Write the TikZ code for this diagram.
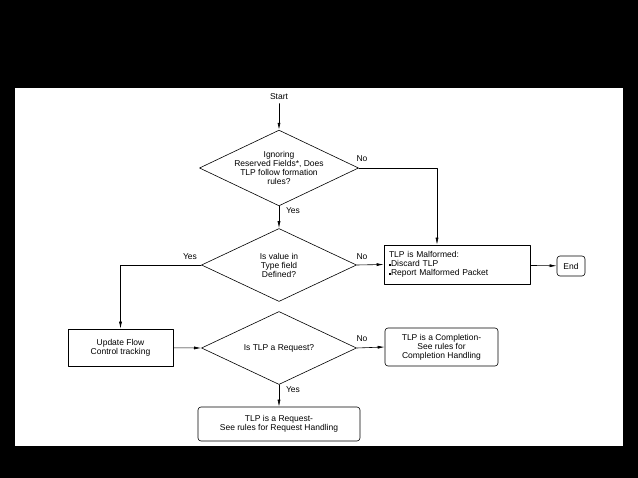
\documentclass[tikz,border=0pt]{standalone}
\usepackage{fontspec}
\setmainfont{Liberation Sans}
\usetikzlibrary{arrows.meta,shapes.geometric}
\newcommand{\sqbul}{\rule[0.25ex]{2pt}{2pt}}
\tikzset{
	dec/.style={draw,diamond,shape aspect=2.1,inner sep=0pt,minimum width=155,minimum height=73,align=center,font=\fontsize{8.5}{9}\selectfont},
	box/.style={draw,align=center,inner sep=2pt,font=\fontsize{8.5}{9}\selectfont},
	rbox/.style={box,rounded corners=3pt},
	lbl/.style={font=\fontsize{8.5}{9}\selectfont}
}
\begin{document}
\begin{tikzpicture}[line cap=round,line join=round,>={Latex[length=7pt,width=3pt]},x=1pt,y=-1pt,line width=0.6pt]
		\fill[black] (0,0) rectangle (638,478);
		\fill[white] (15,88) rectangle (623,446);
		\useasboundingbox (0,0) rectangle (638,478);
	% decisions
	\node[lbl] (start) at (279,97) {Start};
	\node[dec] (formed) at (279,168) {Ignoring\\Reserved Fields*, Does\\TLP follow formation\\rules?};
	\node[dec] (typedef) at (279,265) {Is value in\\Type field\\Defined?};
	\node[dec] (isreq) at (279,348) {Is TLP a Request?};
	% boxes
	\node[box,align=left,minimum width=146,minimum height=39,text width=136] (malformed) at (457,264.5) {TLP is Malformed:\\\sqbul Discard TLP\\\sqbul Report Malformed Packet};
	\node[rbox,minimum width=28,minimum height=20] (end) at (571,266) {End};
	\node[box,minimum width=105,minimum height=37] (update) at (120.5,347.5) {Update Flow\\Control tracking};
	\node[rbox,minimum width=113,minimum height=38] (cpl) at (441.5,347) {TLP is a Completion-\\See rules for\\Completion Handling};
	\node[rbox,minimum width=162,minimum height=34] (req) at (279,424) {TLP is a Request-\\See rules for Request Handling};
	% connectors
	\draw[->] (start) -- (formed);
	\draw[->] (formed.east) -| ([xshift=-20pt]malformed.north);
		\node[lbl] at (362,159) {No};
	\draw[->] (formed.south) -- (typedef.north);
		\node[lbl] at (293,211) {Yes};
	\draw[->] (typedef.east) -- (malformed.west);
		\node[lbl] at (362,257) {No};
	\draw[->] (malformed) -- (end);
	\draw[->] (typedef.west) -| (update.north);
		\node[lbl] at (190,257) {Yes};
	\draw[->] (update) -- (isreq.west);
	\draw[->] (isreq.east) -- (cpl.west);
		\node[lbl] at (362,339) {No};
	\draw[->] (isreq.south) -- (req.north);
		\node[lbl] at (293,390) {Yes};
\end{tikzpicture}
\end{document}
